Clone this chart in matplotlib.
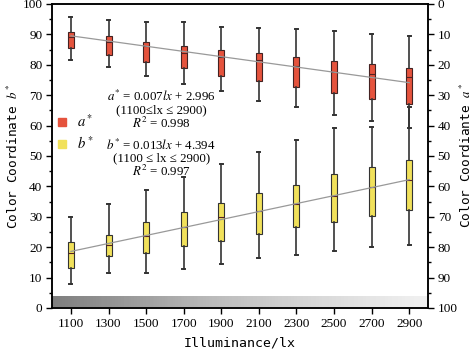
import numpy as np
import matplotlib
matplotlib.use("Agg")
import matplotlib.pyplot as plt
from matplotlib.lines import Line2D

plt.rcParams["font.family"] = ["Liberation Serif", "DejaVu Serif"]
plt.rcParams["mathtext.fontset"] = "stix"

# data
lux = [1100, 1300, 1500, 1700, 1900, 2100, 2300, 2500, 2700, 2900]

# a* (right axis, inverted)
a_min = [4.4, 5.3, 5.9, 5.9, 7.5, 7.8, 8.3, 9.0, 9.8, 10.4]
a_q1 = [9.2, 10.5, 12.4, 13.8, 15.1, 16.0, 17.5, 18.8, 19.8, 21.0]
a_med = [11.0, 12.5, 13.8, 16.0, 17.3, 18.4, 20.4, 22.3, 23.0, 23.9]
a_q3 = [14.6, 16.8, 19.0, 21.0, 23.6, 25.3, 27.2, 29.4, 31.2, 33.0]
a_max = [18.4, 20.6, 23.7, 26.3, 28.8, 31.8, 33.8, 36.5, 38.4, 40.9]

# b* (left axis)
b_min = [7.9, 11.5, 11.5, 12.8, 14.5, 16.3, 17.4, 18.7, 20.0, 20.8]
b_q1 = [13.2, 17.2, 18.0, 20.4, 22.1, 24.3, 26.7, 28.4, 30.2, 32.3]
b_med = [18.1, 20.7, 23.8, 26.7, 29.8, 32.0, 34.2, 36.9, 39.7, 42.2]
b_q3 = [21.8, 24.1, 28.2, 31.4, 34.4, 37.8, 40.5, 44.1, 46.5, 48.7]
b_max = [30.0, 34.2, 38.9, 43.0, 47.4, 51.4, 55.3, 59.3, 59.6, 66.0]

# fitted lines (end points as drawn)
fit_x = [1100, 2900]
fit_a = [10.5, 25.9]
fit_b = [18.6, 42.2]

red = "#e5533d"
yellow = "#f1e15b"


def stats(lo, q1, med, q3, hi):
    return [dict(whislo=w0, q1=a, med=m, q3=b, whishi=w1, fliers=[])
            for w0, a, m, b, w1 in zip(lo, q1, med, q3, hi)]


fig = plt.figure(figsize=(4.74, 3.54), dpi=100)
ax = fig.add_axes([0.110, 0.130, 0.793, 0.859])
ax2 = ax.twinx()

# gradient bar along the bottom
grad = np.linspace(0, 1, 256).reshape(1, -1)
ax.imshow(grad, cmap="Greys_r", vmin=-0.9, vmax=1.25, aspect="auto",
          extent=[1000, 3000, 0.4, 4.0], zorder=0)

box_kw = dict(positions=lux, widths=32, showfliers=False, patch_artist=True,
              whiskerprops=dict(color="#333333", lw=1.2),
              capprops=dict(color="#333333", lw=1.4),
              medianprops=dict(color="#552222", lw=0.8))

bp_b = ax.bxp(stats(b_min, b_q1, b_med, b_q3, b_max),
              boxprops=dict(facecolor=yellow, edgecolor="#333333", lw=0.8),
              **box_kw)
for c in bp_b["caps"]:
    x = c.get_xdata()
    c.set_xdata([np.mean(x) - 8, np.mean(x) + 8])
ax.plot(fit_x, fit_b, color="#999999", lw=0.9, zorder=5)

bp_a = ax2.bxp(stats(a_min, a_q1, a_med, a_q3, a_max),
               boxprops=dict(facecolor=red, edgecolor="#442222", lw=0.8),
               **box_kw)
for c in bp_a["caps"]:
    x = c.get_xdata()
    c.set_xdata([np.mean(x) - 8, np.mean(x) + 8])
ax2.plot(fit_x, fit_a, color="#999999", lw=0.9, zorder=5)

ax.set_xlim(1000, 3000)
ax.set_ylim(0, 100)
ax2.set_ylim(100, 0)
ax.set_xticks(lux)
ax.set_xticklabels([str(v) for v in lux])
ax.set_yticks(range(0, 101, 10))
ax.set_yticks(range(0, 101, 5), minor=True)
ax2.set_yticks(range(0, 101, 10))
ax2.set_yticks(range(0, 101, 5), minor=True)

for a in (ax, ax2):
    a.tick_params(direction="out", labelsize=9.5, length=4, width=1, pad=3)
    a.tick_params(which="minor", direction="out", length=2.5, width=1)
    for s in a.spines.values():
        s.set_linewidth(1.1)

ax.set_xlabel("Illuminance/lx", fontsize=9.5, family="DejaVu Sans Mono", labelpad=5)
ax.set_ylabel("Color Coordinate $b^*$", fontsize=9.2, family="DejaVu Sans Mono",
              labelpad=1)
ax2.set_ylabel("Color Coordiante $a^*$", fontsize=9.2, family="DejaVu Sans Mono",
               rotation=90, labelpad=1)

# legend
handles = [Line2D([], [], ls="", marker="s", ms=6, color=red, label="$a^*$"),
           Line2D([], [], ls="", marker="s", ms=6, color=yellow, label="$b^*$")]
ax.legend(handles=handles, loc="center left", bbox_to_anchor=(0.0, 0.576),
          borderaxespad=0, borderpad=0.2, frameon=False, fontsize=10.5,
          handlelength=1.0, handletextpad=0.5, labelspacing=0.35)

# equations
eq_kw = dict(transform=ax.transAxes, ha="center", va="center", fontsize=9.3)
ax.text(0.29, 0.694, "$a^{*}$ = 0.007$lx$ + 2.996", **eq_kw)
ax.text(0.29, 0.651, "(1100≤lx ≤ 2900)", **eq_kw)
ax.text(0.29, 0.607, "$R^2$ = 0.998", **eq_kw)
ax.text(0.29, 0.535, "$b^{*}$ = 0.013$lx$ + 4.394", **eq_kw)
ax.text(0.29, 0.492, "(1100 ≤ lx ≤ 2900)", **eq_kw)
ax.text(0.29, 0.449, "$R^2$ = 0.997", **eq_kw)

fig.savefig("out.png", dpi=100)
